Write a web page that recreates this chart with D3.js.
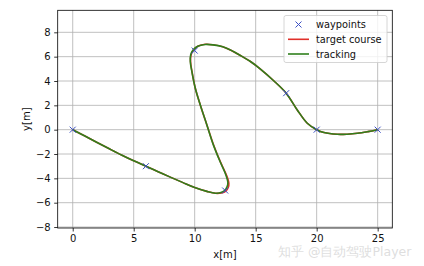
<!DOCTYPE html>
<html><head><meta charset="utf-8">
<script src="https://cdn.jsdelivr.net/npm/d3@7"></script>
<style>body{margin:0;background:#fff}svg{display:block}text{font-family:"DejaVu Sans",sans-serif}</style>
</head><body><svg id="c" width="424" height="266"></svg>
<script>
const waypointsX = [0.0, 6.0, 12.5, 10.0, 17.5, 20.0, 25.0];
const waypointsY = [0.0, -3.0, -5.0, 6.5, 3.0, 0.0, 0.0];
const courseX = [0,1,2,3,4,5,6,7,8,9,10,11,11.7,12.2,12.55,12.75,12.8,12.6,12.1,11.55,11.0,10.46,10.05,9.78,9.66,9.7,9.9,10.3,10.87,11.5,12.3,12.93,13.75,14.57,15.39,16.48,17.5,18.41,19.23,20.0,20.6,21.69,22.5,23.34,24.2,25];
const courseY = [0,-0.52,-1.05,-1.57,-2.08,-2.56,-3.0,-3.45,-3.9,-4.33,-4.75,-5.07,-5.23,-5.2,-5.05,-4.75,-4.4,-3.72,-2.63,-1.26,0.39,2.03,3.4,4.77,5.6,6.14,6.55,6.88,7.02,6.98,6.82,6.55,6.1,5.6,4.98,4.02,3.0,1.62,0.53,0,-0.24,-0.38,-0.37,-0.3,-0.16,0];
const trackX = [0,1,2,3,4,5,6,7,8,9,10,11,11.7,12.15,12.45,12.65,12.72,12.55,12.08,11.53,11.0,10.46,10.05,9.77,9.64,9.67,9.85,10.25,10.85,11.5,12.3,12.93,13.75,14.57,15.39,16.48,17.5,18.41,19.23,20.0,20.6,21.69,22.5,23.34,24.2,25];
const trackY = [0,-0.52,-1.05,-1.57,-2.08,-2.56,-3.0,-3.45,-3.9,-4.33,-4.75,-5.07,-5.22,-5.17,-5.0,-4.7,-4.35,-3.7,-2.62,-1.25,0.39,2.03,3.4,4.77,5.6,6.14,6.52,6.85,7.0,6.97,6.81,6.55,6.1,5.6,4.98,4.02,3.0,1.62,0.53,0,-0.24,-0.38,-0.37,-0.3,-0.16,0];
const xTicks = [0,5,10,15,20,25];
const yTicks = [-8,-6,-4,-2,0,2,4,6,8];
const legendLabels = ["waypoints","target course","tracking"];

const svg = d3.select("#c");
const L=57.7,R=392.3,T=10.3,B=228;
const x = d3.scaleLinear().domain([-1.23,26.2]).range([L,R]);
const y = d3.scaleLinear().domain([-8.08,9.81]).range([B,T]);
const fmt = d3.format("d");
const RED="#e0302a", GREEN="#2f7f1c", BLUE="#3b4fc4";

svg.append("g").selectAll("line").data(xTicks).join("line")
  .attr("x1",d=>x(d)).attr("x2",d=>x(d)).attr("y1",T).attr("y2",B)
  .attr("stroke","#b0b0b0").attr("stroke-width",0.8);
svg.append("g").selectAll("line").data(yTicks).join("line")
  .attr("y1",d=>y(d)).attr("y2",d=>y(d)).attr("x1",L).attr("x2",R)
  .attr("stroke","#b0b0b0").attr("stroke-width",0.8);

const line = d3.line().x(d=>x(d[0])).y(d=>y(d[1])).curve(d3.curveCatmullRom.alpha(0.5));
svg.append("path").datum(courseX.map((v,i)=>[v,courseY[i]]))
  .attr("d",line).attr("fill","none").attr("stroke",RED).attr("stroke-width",1.6);
svg.append("path").datum(trackX.map((v,i)=>[v,trackY[i]]))
  .attr("d",line).attr("fill","none").attr("stroke",GREEN).attr("stroke-width",1.6);

function cross(g,cx,cy){
  const s=3;
  g.append("path").attr("d",`M${cx-s},${cy-s}L${cx+s},${cy+s}M${cx-s},${cy+s}L${cx+s},${cy-s}`)
   .attr("stroke",BLUE).attr("stroke-width",1).attr("fill","none");
}
const wg = svg.append("g");
waypointsX.forEach((v,i)=>cross(wg,x(v),y(waypointsY[i])));

const xa = svg.append("g").attr("transform",`translate(0,${B})`)
  .call(d3.axisBottom(x).tickValues(xTicks).tickFormat(fmt).tickSize(3.5).tickPadding(3.5));
const ya = svg.append("g").attr("transform",`translate(${L},0)`)
  .call(d3.axisLeft(y).tickValues(yTicks).tickFormat(fmt).tickSize(3.5).tickPadding(3.5));
[xa,ya].forEach(a=>{a.select(".domain").remove();a.selectAll("line").attr("stroke","#000").attr("stroke-width",0.8);
  a.selectAll("text").attr("font-size",10).attr("fill","#111").attr("font-family","DejaVu Sans");});
svg.append("rect").attr("x",L).attr("y",T).attr("width",R-L).attr("height",B-T)
  .attr("fill","none").attr("stroke","#000").attr("stroke-width",0.8);

svg.append("text").attr("x",(L+R)/2).attr("y",258).attr("text-anchor","middle").attr("font-size",10).attr("fill","#111").text("x[m]");
svg.append("text").attr("transform",`translate(30,${(T+B)/2}) rotate(-90)`).attr("text-anchor","middle").attr("font-size",10).attr("fill","#111").text("y[m]");

const lg = svg.append("g");
lg.append("rect").attr("x",284).attr("y",15.5).attr("width",103).attr("height",47).attr("rx",2)
  .attr("fill","#fff").attr("fill-opacity",0.8).attr("stroke","#cccccc").attr("stroke-width",0.8);
const ly=[24.5,39.3,54];
cross(lg,298.5,ly[0]);
lg.append("line").attr("x1",288).attr("x2",309).attr("y1",ly[1]).attr("y2",ly[1]).attr("stroke",RED).attr("stroke-width",1.6);
lg.append("line").attr("x1",288).attr("x2",309).attr("y1",ly[2]).attr("y2",ly[2]).attr("stroke",GREEN).attr("stroke-width",1.6);
lg.selectAll("text.l").data(legendLabels).join("text").attr("class","l")
  .attr("x",316).attr("y",(d,i)=>ly[i]+3.5).attr("font-size",9.8).attr("fill","#111").text(d=>d);

svg.append("text").attr("x",278).attr("y",256).attr("font-size",12.5)
  .attr("font-family","'Noto Sans CJK SC',sans-serif").attr("fill","#d8d8d8").attr("fill-opacity",0.85)
  .text("知乎 @自动驾驶Player");
</script></body></html>
